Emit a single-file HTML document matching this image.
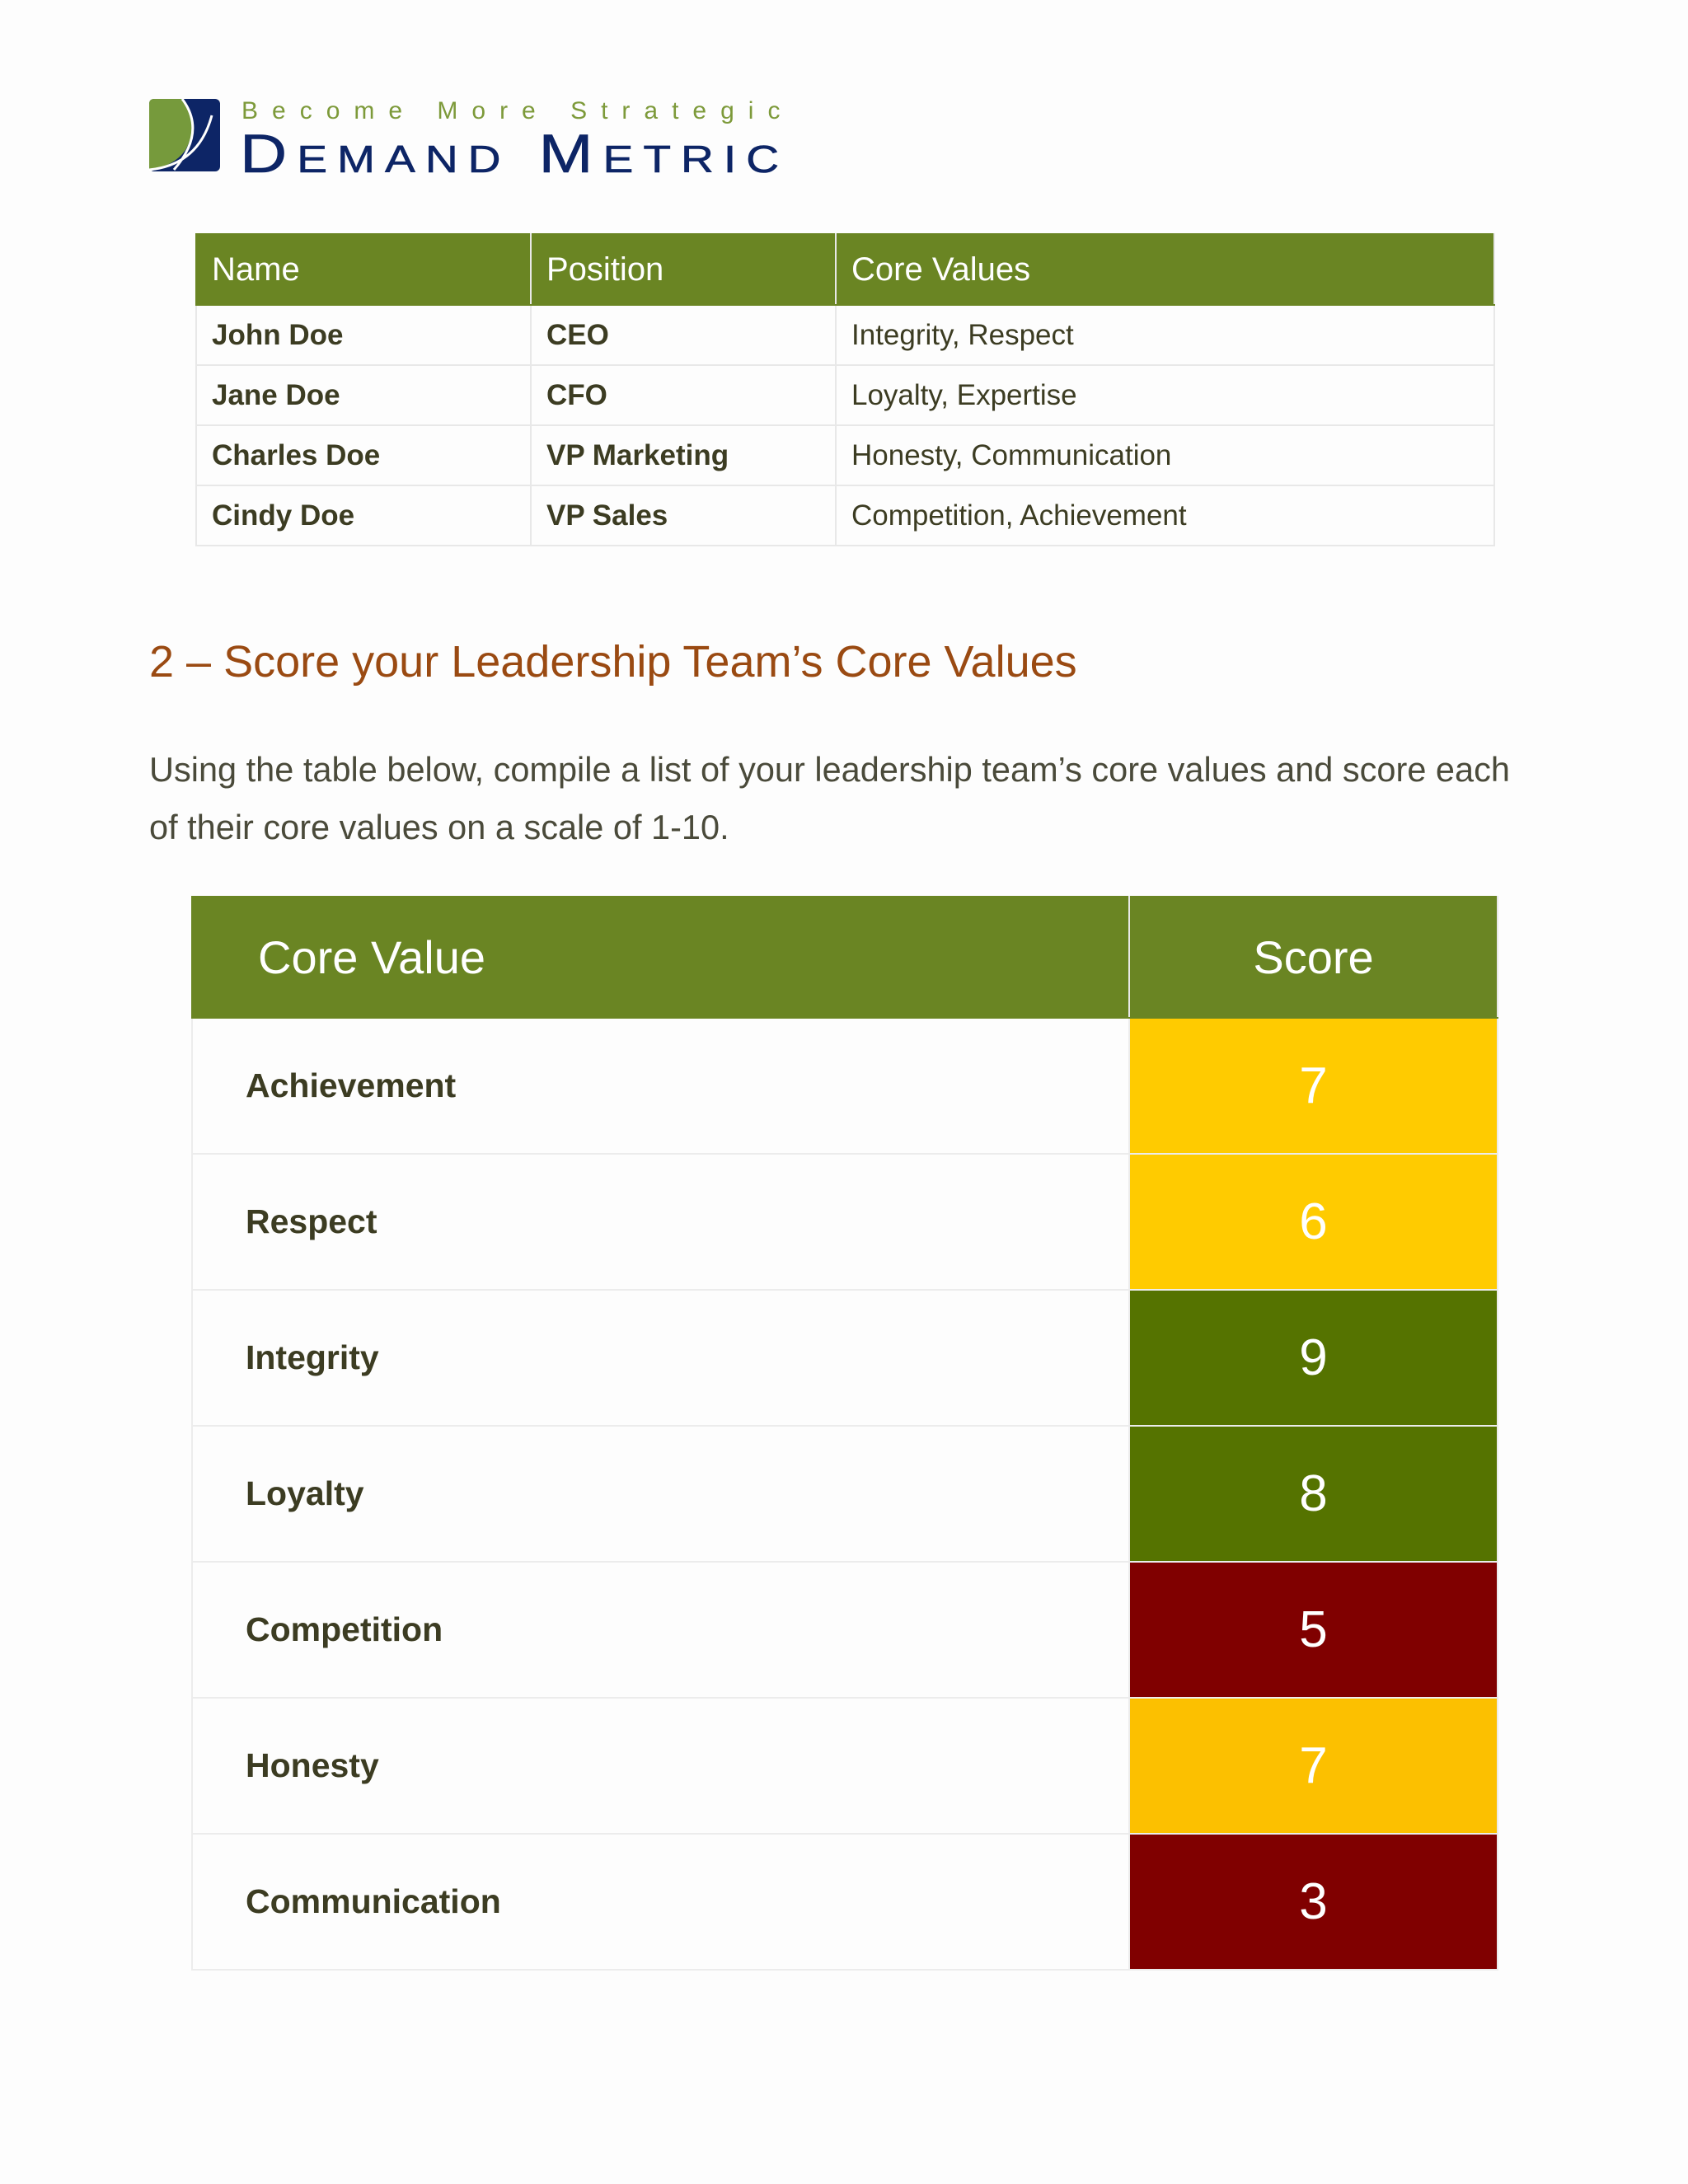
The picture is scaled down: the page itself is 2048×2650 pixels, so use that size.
<!DOCTYPE html>
<html><head><meta charset="utf-8"><style>
body{margin:0;width:2048px;height:2650px;background:#fdfdfd;font-family:"Liberation Sans",sans-serif;position:relative;overflow:hidden}
.abs{position:absolute}
table{border-collapse:collapse;position:absolute}
td{padding:0}
#t1 td{border:2px solid #e8e8e8;font-size:35px;color:#3c3c22;padding-left:18px;height:71px}
#t1 tr.h td{background:#6a8523;color:#fff;font-size:40px;height:84px;border-color:#6a8523;border-right:2px solid #e8e8e8}
#t1 td.b{font-weight:bold}
#t2 td{border:2px solid #ececec;height:163px}
#t2 td.lab{font-weight:bold;font-size:41px;color:#3c3c22;padding-left:64px}
#t2 td.sc{text-align:center;color:#fff;font-size:62px}
#t2 tr.h td{background:#6a8523;color:#fff;font-size:56px;height:145px;border-color:#6a8523;border-right:2px solid #e8e8e8}
</style></head><body>
<div class="abs" style="left:181px;top:118px;width:1000px;height:90px">
<svg class="abs" style="left:0;top:2px" width="86" height="88" viewBox="0 0 86 88">
<rect x="0" y="0" width="86" height="88" rx="6" fill="#0d2566"/>
<path d="M0 6 Q0 0 6 0 H40 Q62 30 44 62 Q30 82 0 86 Z" fill="#769a3c"/>
<path d="M40 0 Q70 40 30 86" stroke="#fff" stroke-width="3" fill="none"/>
<path d="M0 86 Q60 80 76 20" stroke="#fff" stroke-width="3" fill="none"/>
</svg>
<div class="abs" style="left:112px;top:0;font-size:30px;letter-spacing:17px;color:#7d9a3a;white-space:nowrap">Become More Strategic</div>
<div class="abs" style="left:110px;top:30px;font-size:66px;letter-spacing:10px;color:#0d2566;font-variant:small-caps;white-space:nowrap;transform:scaleX(1.2);transform-origin:left;-webkit-text-stroke:0.6px #0d2566">Demand Metric</div>
</div>
<table id="t1" style="left:237px;top:283px;width:1577px">
<tr class="h"><td style="width:386px">Name</td><td style="width:350px">Position</td><td>Core Values</td></tr>
<tr><td class="b">John Doe</td><td class="b">CEO</td><td>Integrity, Respect</td></tr>
<tr><td class="b">Jane Doe</td><td class="b">CFO</td><td>Loyalty, Expertise</td></tr>
<tr><td class="b">Charles Doe</td><td class="b">VP Marketing</td><td>Honesty, Communication</td></tr>
<tr><td class="b">Cindy Doe</td><td class="b">VP Sales</td><td>Competition, Achievement</td></tr>
</table>
<div class="abs" style="left:181px;top:772px;font-size:54px;color:#9a4a12;white-space:nowrap">2 – Score your Leadership Team’s Core Values</div>
<div class="abs" style="left:181px;top:899px;width:1665px;font-size:41.5px;line-height:70px;color:#4a4a3a">Using the table below, compile a list of your leadership team’s core values and score each of their core values on a scale of 1-10.</div>
<table id="t2" style="left:232px;top:1087px;width:1586px">
<tr class="h"><td style="width:1137px;padding-left:79px;box-sizing:border-box">Core Value</td><td style="text-align:center">Score</td></tr>
<tr><td class="lab">Achievement</td><td class="sc" style="background:#ffcb00">7</td></tr>
<tr><td class="lab">Respect</td><td class="sc" style="background:#ffcb00">6</td></tr>
<tr><td class="lab">Integrity</td><td class="sc" style="background:#557300">9</td></tr>
<tr><td class="lab">Loyalty</td><td class="sc" style="background:#557300">8</td></tr>
<tr><td class="lab">Competition</td><td class="sc" style="background:#800000">5</td></tr>
<tr><td class="lab">Honesty</td><td class="sc" style="background:#fcc000">7</td></tr>
<tr><td class="lab">Communication</td><td class="sc" style="background:#800000">3</td></tr>
</table>
</body></html>
